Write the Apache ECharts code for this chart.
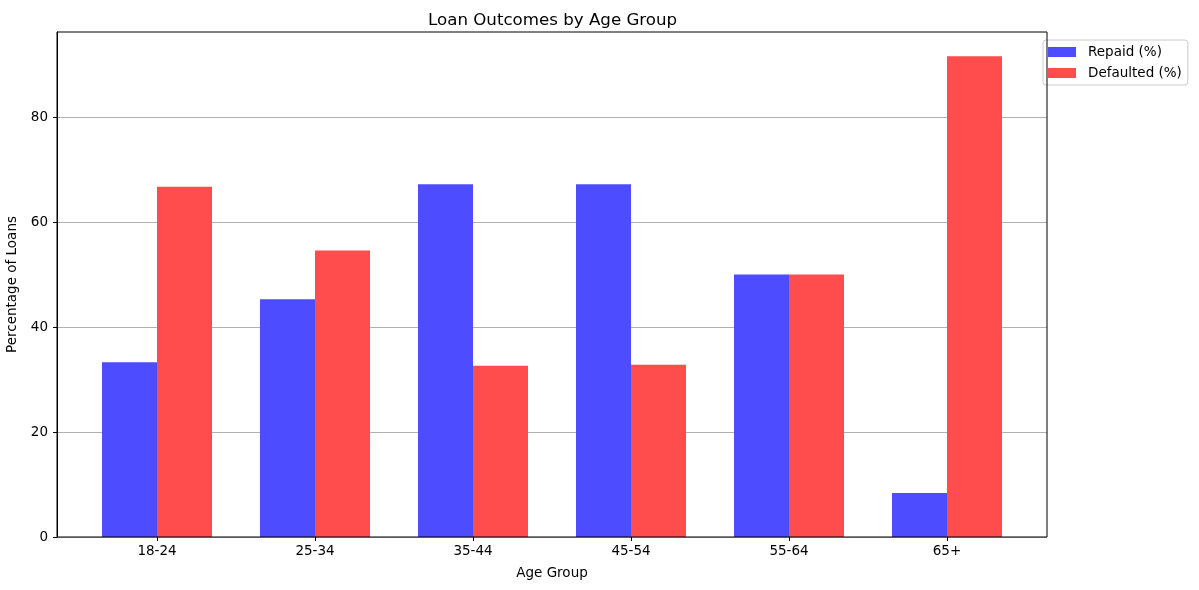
<!DOCTYPE html>
<html><head><meta charset="utf-8">
<script src="https://cdn.jsdelivr.net/npm/echarts@6/dist/echarts.min.js"></script>
<style>html,body{margin:0;padding:0;background:#fff}#c{width:1199px;height:590px}</style>
</head><body><div id="c"></div>
<script>
const categories = ['18-24','25-34','35-44','45-54','55-64','65+'];
const repaid = [33.3, 45.3, 67.2, 67.2, 50.0, 8.4];
const defaulted = [66.7, 54.6, 32.6, 32.8, 50.0, 91.6];
const yTicks = [0, 20, 40, 60, 80];

const F = 'DejaVu Sans';
const FS = 13.5;
const chart = echarts.init(document.getElementById('c'), null, {renderer:'canvas'});
chart.setOption({
  animation: false,
  textStyle: {fontFamily: F},
  title: {text: 'Loan Outcomes by Age Group', left: 423, top: 7,
    textStyle: {fontFamily: F, fontSize: 16.67, fontWeight: 'normal', color: '#000'}},
  legend: {orient: 'vertical', left: 1043, top: 40, itemWidth: 28, itemHeight: 10, itemGap: 7,
    padding: [5, 6, 5, 5], borderColor: '#ccc', borderWidth: 1, borderRadius: 3, backgroundColor: '#fff',
    textStyle: {fontFamily: F, fontSize: 13.5, color: '#000', padding: [0, 0, 0, 7]}, icon: 'rect',
    data: ['Repaid (%)', 'Defaulted (%)']},
  grid: [
    {left: 57, right: 152, top: 32, bottom: 53, show: true, borderColor: '#000', borderWidth: 1,
      backgroundColor: 'transparent', z: 5, outerBoundsMode: 'none', containLabel: false},
    {left: 78, width: 948, top: 32, bottom: 53, outerBoundsMode: 'none', containLabel: false}
  ],
  xAxis: [
    {type: 'value', gridIndex: 0, show: false, min: 0, max: 1},
    {type: 'category', gridIndex: 1, data: categories,
      axisLine: {show: false},
      axisTick: {show: true, alignWithLabel: true, length: 4, lineStyle: {color: '#000'}},
      axisLabel: {color: '#000', fontSize: FS, margin: 7, fontFamily: F},
      name: 'Age Group', nameLocation: 'middle', nameGap: 29,
      nameTextStyle: {color: '#000', fontSize: FS, fontFamily: F}}
  ],
  yAxis: [
    {type: 'value', gridIndex: 0, min: 0, max: 96.2,
      axisLine: {show: true, lineStyle: {color: '#000'}},
      axisTick: {show: true, length: 4, lineStyle: {color: '#000'}, customValues: yTicks},
      axisLabel: {color: '#000', fontSize: FS, margin: 9, fontFamily: F, customValues: yTicks},
      splitLine: {show: true, lineStyle: {color: '#b0b0b0', width: 1}},
      name: 'Percentage of Loans', nameLocation: 'middle', nameGap: 35,
      nameTextStyle: {color: '#000', fontSize: FS, fontFamily: F}},
    {type: 'value', gridIndex: 1, min: 0, max: 96.2, show: false, splitLine: {show: false}}
  ],
  series: [
    {name: 'Repaid (%)', type: 'bar', xAxisIndex: 1, yAxisIndex: 1, data: repaid,
      barWidth: 55, barGap: '0%', itemStyle: {color: 'rgb(77,77,255)'}},
    {name: 'Defaulted (%)', type: 'bar', xAxisIndex: 1, yAxisIndex: 1, data: defaulted,
      barWidth: 55, barGap: '0%', itemStyle: {color: 'rgb(255,77,77)'}}
  ]
});
</script></body></html>
